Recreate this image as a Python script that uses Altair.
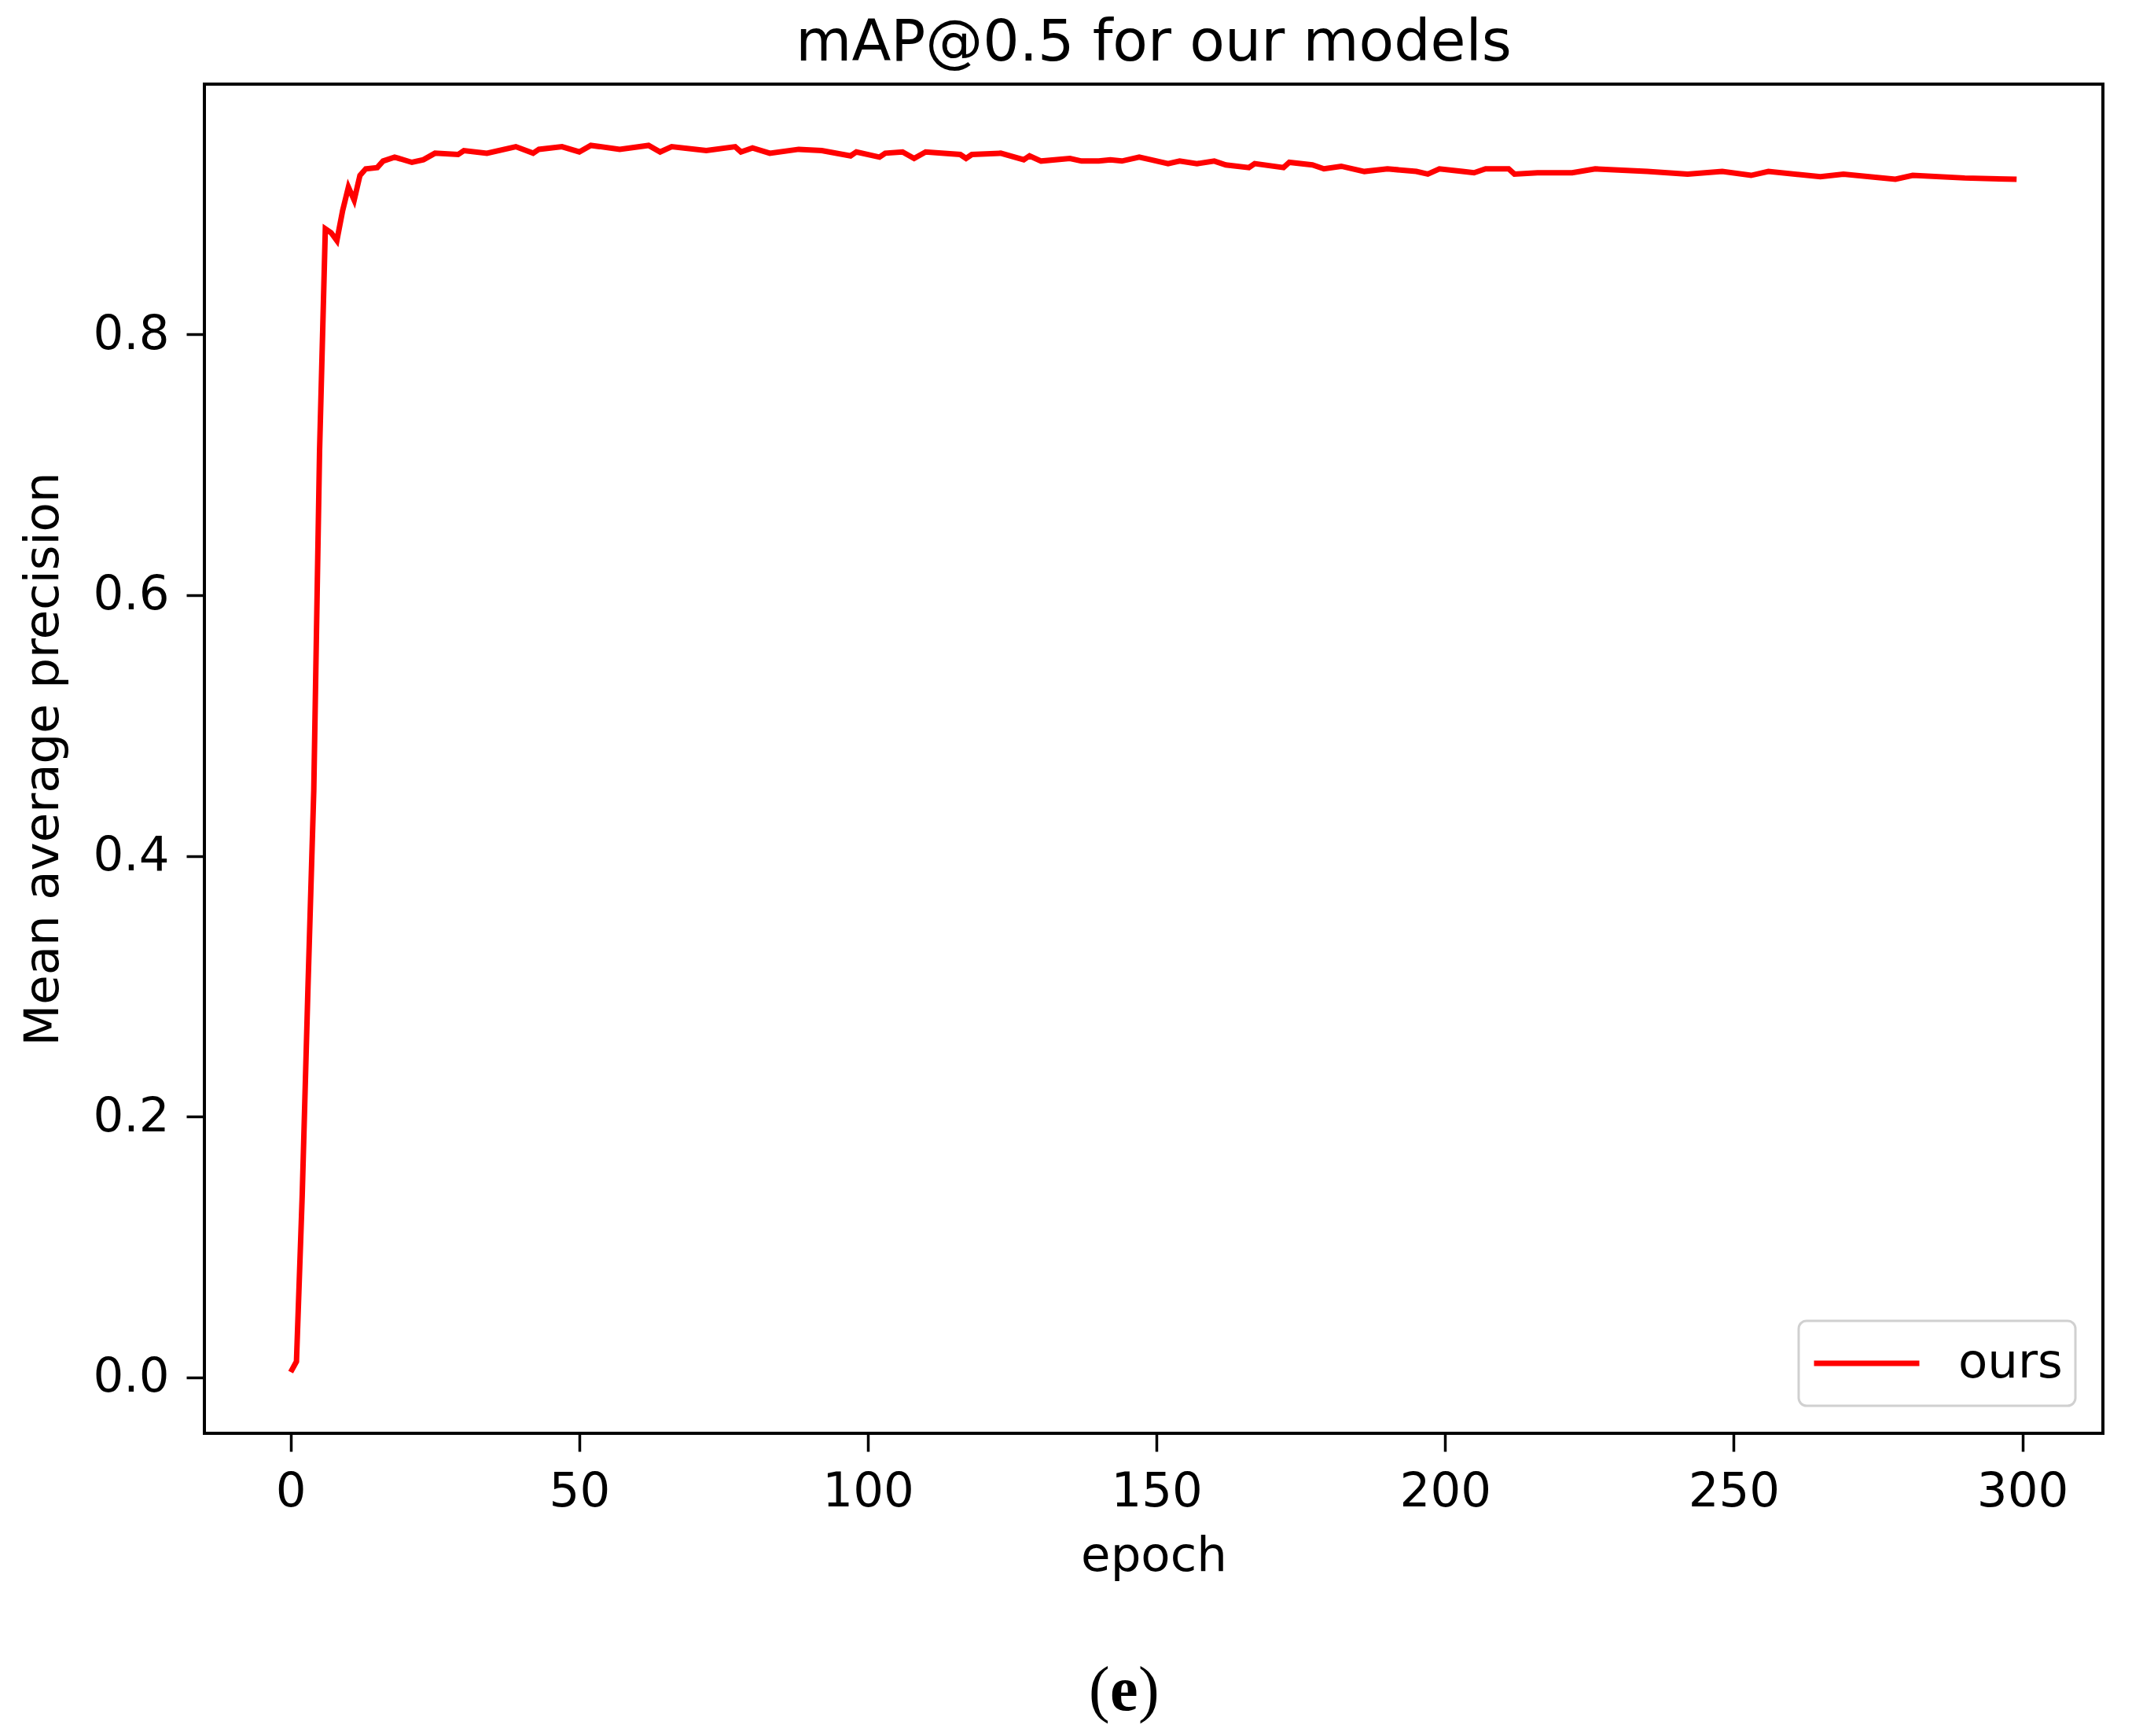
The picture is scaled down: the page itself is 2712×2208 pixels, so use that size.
import altair as alt
import pandas as pd

# Epoch -> mAP@0.5
epochs = [0, 1, 2, 3, 4, 5, 6, 7, 8, 9, 10, 11, 12, 13, 15, 16, 18, 21, 23, 25,
          29, 30, 34, 39, 42, 43, 47, 50, 52, 57, 62, 64, 66, 72, 77, 78, 80, 83, 88, 92,
          97, 98, 102, 103, 106, 108, 110, 116, 117, 118, 123, 127, 128, 130, 135, 137, 140, 142, 144, 147,
          149, 152, 154, 157, 160, 162, 166, 167, 172, 173, 177, 179, 182, 186, 190, 195, 197, 199, 203, 205,
          207, 211, 212, 216, 222, 226, 235, 242, 248, 253, 256, 265, 269, 278, 281, 290, 299]
values = [0.004, 0.012, 0.14, 0.30, 0.45, 0.71, 0.881, 0.878, 0.872, 0.895, 0.913, 0.903, 0.922, 0.927, 0.928, 0.933, 0.936, 0.932, 0.934, 0.939,
          0.938, 0.941, 0.939, 0.944, 0.939, 0.942, 0.944, 0.940, 0.945, 0.942, 0.945, 0.940, 0.944, 0.941, 0.944, 0.940, 0.943, 0.939, 0.942, 0.941,
          0.937, 0.940, 0.936, 0.939, 0.940, 0.935, 0.940, 0.938, 0.935, 0.938, 0.939, 0.934, 0.937, 0.933, 0.935, 0.933, 0.933, 0.934, 0.933, 0.936,
          0.934, 0.931, 0.933, 0.931, 0.933, 0.930, 0.928, 0.931, 0.928, 0.932, 0.930, 0.927, 0.929, 0.925, 0.927, 0.925, 0.923, 0.927, 0.925, 0.924,
          0.927, 0.927, 0.923, 0.924, 0.924, 0.927, 0.925, 0.923, 0.925, 0.922, 0.925, 0.921, 0.923, 0.919, 0.922, 0.920, 0.919]
assert len(epochs) == len(values)

series_name = ["ours"]
series_color = ["#ff0000"]
x_ticks = [0, 50, 100, 150, 200, 250, 300]
y_ticks = [0.0, 0.2, 0.4, 0.6, 0.8]

df = pd.DataFrame({"epoch": epochs, "map": values, "model": series_name[0]})

FONT = "DejaVu Sans"
W, H = 2415, 1716

line = alt.Chart(df).mark_line(strokeWidth=7, clip=True).encode(
    x=alt.X("epoch:Q", scale=alt.Scale(domain=[-14.95, 313.95], nice=False, zero=False),
            axis=alt.Axis(values=x_ticks, title="epoch", format="d", labelPadding=21, titlePadding=22)),
    y=alt.Y("map:Q", scale=alt.Scale(domain=[-0.043, 0.992], nice=False, zero=False),
            axis=alt.Axis(values=y_ticks, title="Mean average precision", format=".1f",
                          labelPadding=22, titlePadding=31, titleFontSize=61)),
    color=alt.Color("model:N", scale=alt.Scale(domain=series_name, range=series_color),
                    legend=alt.Legend(title=None, orient="none", legendX=2028, legendY=1573,
                                      symbolType="stroke", symbolSize=17956, symbolStrokeWidth=7,
                                      labelFontSize=61, labelFont=FONT, labelColor="black",
                                      labelOffset=46, padding=16, cornerRadius=10, clipHeight=76,
                                      strokeColor="#d0d0d0", fillColor="white")),
)

cap_df = pd.DataFrame({"k": [0]})
cap_open = alt.Chart(cap_df).mark_text(text="(", font="Liberation Serif", fontSize=80, align="left",
                                       baseline="alphabetic", color="black").encode(
    x=alt.value(1125), y=alt.value(2068))
cap_e = alt.Chart(cap_df).mark_text(text="e", font="Liberation Serif", fontSize=80, fontWeight="bold",
                                    align="left", baseline="alphabetic", color="black").encode(
    x=alt.value(1152), y=alt.value(2068))
cap_close = alt.Chart(cap_df).mark_text(text=")", font="Liberation Serif", fontSize=80, align="left",
                                        baseline="alphabetic", color="black").encode(
    x=alt.value(1188), y=alt.value(2068))

chart = alt.layer(line, cap_open, cap_e, cap_close).properties(
    width=W, height=H,
    title=alt.TitleParams("mAP@0.5 for our models", font=FONT, fontSize=73, fontWeight="normal",
                          color="black", anchor="middle", offset=15),
    autosize=alt.AutoSizeParams(type="none"),
    padding={"left": 252, "top": 99, "right": 20, "bottom": 377},
).configure(
    background="white"
).configure_view(
    stroke="black", strokeWidth=4
).configure_axis(
    domain=False, grid=False, ticks=True, tickColor="black", tickWidth=3.5, tickSize=23,
    labelFont=FONT, labelFontSize=61, labelColor="black",
    titleFont=FONT, titleFontSize=61, titleFontWeight="normal", titleColor="black",
).configure_legend(
    strokeWidth=3
)

chart.save("out.html", embed_options={"renderer": "svg", "actions": False})
